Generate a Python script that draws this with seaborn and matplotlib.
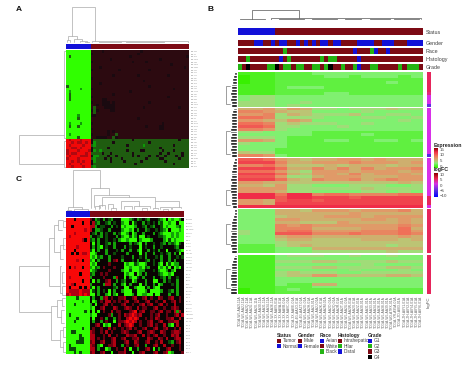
###################################################################################################
# Multi-panel heatmaps: A and C (differential genes), B (expression with clinical annotation)
# Saves out.png (474x366)
###################################################################################################

import numpy as np
import matplotlib
matplotlib.use("Agg")
import matplotlib.pyplot as plt
import seaborn as sns
from matplotlib.colors import LinearSegmentedColormap, ListedColormap, Normalize
from matplotlib.cm import ScalarMappable
from matplotlib.patches import Patch

sns.set_theme(style="white")
plt.rcParams["font.family"] = ["Liberation Sans", "DejaVu Sans"]

W, H = 474, 366

#################################### 1. Data ################################

# cell levels for A and C: 0 bright green ... 3 black ... 6 bright red
A_MATRIX = [
    "000000000 444434444444 444444344444 444444444444",
    "000000000 344444444444 444443444444 444444444444",
    "020000000 444444444444 443444444444 444444444443",
    "000000000 444444434444 444444444444 434444444444",
    "000000000 344444444444 444344443444 444444444444",
    "000000000 444444444444 444444444444 444443444444",
    "000000000 444344444444 444444444444 444444444434",
    "000000000 344444444434 444444444344 444444444444",
    "000000000 444444444444 444444444444 444444444444",
    "000000000 444444443444 444443444444 444434444444",
    "000000000 344444444444 444444444444 444444444444",
    "000000000 444444444444 444444434444 444444444444",
    "000000000 444344444444 444444444444 444444444444",
    "200000000 444444444444 444444444344 444444444444",
    "000001000 344444444444 444444444444 444444344444",
    "010000000 444444444444 443444444444 444444444444",
    "020000000 444444443444 444444444444 444444444444",
    "020000000 344444444444 444444444444 444434444444",
    "020000000 444433444444 444444444444 444444444444",
    "000000000 344433343444 444444444344 444444444444",
    "000000000 443433333444 444444444444 444444444444",
    "000000000 424443333444 444444434444 444444443444",
    "000000000 323444433444 444444444444 444444444444",
    "000000000 424444444444 444444444444 444444444444",
    "000010000 334444444444 444444444444 444444444444",
    "000020000 444444444444 444443444444 444444444444",
    "000000000 444444444444 444444444444 444444444444",
    "010001000 344444444444 444444444444 443444444444",
    "020020000 444444444444 444444443444 433444444444",
    "000000000 344444444444 444444444444 433444444444",
    "000000000 444444343444 444444444444 444444444444",
    "010000000 344444344244 444444444444 444444444444",
    "000020000 443333442344 444444444444 444444444444",
    "656665666 322222222222 222322222222 222222223222",
    "665655656 312222223222 222222222322 222222222222",
    "656666566 212222222222 232222212222 222222322222",
    "665565666 322222322222 222222222222 232222222222",
    "566656665 312122222222 232222332222 223222322222",
    "565566656 222232232222 222322222222 232232222322",
    "656665556 311222322322 222323222322 322322232322",
    "566656666 212223232223 222222223222 233222223222",
    "665656566 312222232222 322222322222 222322222222",
    "656665666 322222222222 222232222222 222222322222",
    "665666566 212222222222 222222222222 222222222222",
]

C_MATRIX = [
    "666366666 431231321333 000123123213 332103010013",
    "666666366 352133213233 100302331323 231200100300",
    "663666666 551322331323 010001332132 133201000120",
    "666666656 531123313333 100103133123 323210300010",
    "666566666 321313233132 001301331333 132100010100",
    "656666666 133213233313 100201300323 332210010100",
    "666666536 213133233231 001000310001 333310201000",
    "666666666 303133213133 333132103133 233213121023",
    "666656666 313103233133 313233303233 133233332133",
    "666366666 203133133323 133133103313 231330333210",
    "663636556 001333133233 331333303133 133232131303",
    "666666666 010213313333 233313323133 323133133232",
    "666656366 103133313453 133323133213 233133131333",
    "666666666 010333343333 301002100133 231030201133",
    "636566366 102134333433 300100010213 330102030103",
    "666666666 012333343333 100200011333 231001310333",
    "666663666 213343433333 301003013133 332100103333",
    "656666666 133334333153 303100231333 133213133233",
    "666666366 303133453313 213301333133 003313233133",
    "665366666 133331553133 103133303133 130133323133",
    "636663636 203133333213 300331000313 100333333133",
    "655556555 023132303133 100033000130 000133213133",
    "565556565 003133103103 300013001100 300333133133",
    "000020000 313314534334 453345334534 335433453343",
    "000000100 301343553434 345334533453 343353345343",
    "000200000 130334534333 453343345345 334534335333",
    "000000000 103345333543 345433534433 453343345433",
    "000000020 303034335344 333456345334 434534435153",
    "020000000 100333341334 354565453334 345334334535",
    "000020000 303343133134 335656533434 354334453353",
    "000200000 313313433034 456565343345 334533445533",
    "000000000 334530103335 345653343345 343353103533",
    "000000200 343343353433 434534334533 453345334353",
    "002200000 543343534333 454333453345 433543345543",
    "000002000 553334353343 335445335343 453343354533",
    "000002200 553434334533 453344533354 335435334553",
    "000022200 453345334533 345335433453 343533213453",
    "020000000 543103344533 134334533133 453353343343",
    "022200000 553133013343 353033133453 031334533343",
    "000202000 453345330334 453303345333 453345013334",
]

# panel B, hex expression level, one char = 3 samples: normal | group 2 | group 3
B_BLOCK1 = [
    "111 222 333333333", "011 222 233233323", "011 222 222222222", "011 222 222222322",
    "111 222 222222222", "111 233 322222222", "111 222 222222222", "111 222 233222222",
    "344 333 333333333", "344 333 333333333", "444 334 333333333", "444 343 333333333",
]
B_BLOCK2 = [
    "667 576 443444544", "887 655 333343333", "778 465 444533443", "998 444 433344334",
    "776 576 333333343", "998 454 443343333", "aa9 443 334333333", "887 433 333333333",
    "443 333 222222222", "333 333 222232222", "444 322 222222222", "776 322 233223323",
    "433 322 222222222", "333 322 222222222", "333 222 222222222", "544 222 222222222",
    "887 322 222222222",
]
B_BLOCK3 = [
    "aa9 765 667767666", "bbb 866 777877767", "889 755 565666566", "bbb 966 868686778",
    "999 754 777677767", "bbb 965 776867776", "aaa 744 677766677", "bbb 965 877867877",
    "776 655 555555565", "665 744 333444334", "777 744 444454444", "777 644 333344343",
    "ccc 9cc 899888899", "ccc acc bbbabbbbb", "776 abb abbbbbbbb", "776 bbb bbbbbbbbb",
    "ccc ccc ccccccccc",
]
B_BLOCK4 = [
    "333 665 777677786", "333 666 666766666", "333 566 677767777", "333 776 666677676",
    "333 665 557666676", "333 878 777777787", "333 888 666677796", "433 899 777788897",
    "433 aaa 888988898", "333 677 666666676", "333 566 555566656", "333 455 555555555",
    "222 456 555555455", "222 333 666666666", "222 333 444444544",
]
B_BLOCK5 = [
    "111 344 433433433", "111 333 333333333", "111 444 554444544", "111 333 333343333",
    "111 444 554444554", "111 333 333433343", "111 454 443344444", "111 455 775555665",
    "111 333 333333333", "111 333 333333333", "111 322 663333333", "111 222 333333333",
    "011 232 222222222", "011 222 222222222",
]

# logFC side bar, one value per row of each block
LOGFC_1 = [5, 5, 5, 5, 5, 5, 5, 4, 1, 1, 1, -4]
LOGFC_2 = [1, 1, 1, 1, 1, 1, 1, 1, 1, 1, 1, 1, 1, 1, 1, 1, -5]
LOGFC_3 = [1, 1, 1, 1, 1, 1, 1, 1, 1, 1, 1, 1, 1, 5, 5, 5, 1]
LOGFC_4 = [5, 5, 5, 5, 5, 5, 5, 5, 5, 5, 5, 5, 5, 5, 5]
LOGFC_5 = [5, 5, 5, 5, 5, 5, 5, 5, 5, 5, 5, 5, 5, 5]

# black row dendrogram width next to each block of panel B
LEAF_1 = [3, 4, 5, 5, 6, 6, 7, 8, 7, 8, 7, 6]
LEAF_2 = [4, 5, 6, 6, 6, 7, 7, 8, 8, 7, 8, 8, 8, 7, 8, 7, 6]
LEAF_3 = [3, 4, 5, 5, 6, 7, 7, 8, 7, 8, 8, 8, 7, 7, 7, 6, 5]
LEAF_4 = [3, 3, 4, 5, 6, 7, 7, 8, 7, 8, 8, 7, 8, 7, 6]
LEAF_5 = [3, 4, 5, 6, 6, 7, 7, 8, 8, 7, 8, 7, 8, 8]

# annotation tracks of panel B
STATUS = "NNNNNNNNN" + "TTTTTTTTTTTTTTTTTTTTTTTTTTTTTTTTTTTT"
GENDER = "RRRRBBRRBRBBRRBRBRBRBBRBBRRRRBBBBRRBBBRRRBBBB"
RACE = "RRRRRRRRRRRGRRRRRRRRRRRRRRRRBRRRGBRRBRRRRRRRR"[:45]
HISTOLOGY = "RRGRRRRRRRBRGRRRRRRRGRGGRRRRRBRRRRRRRRRRRRRRR"[:45]
GRADE = "GRKRRRRGGKRGGRGGRRGGRGKRRGRRGBRRGGRRRRRGRGGGR"
TRACK_NAMES = ["Status", "Gender", "Race", "Histology", "Grade"]

SAMPLES = [
    "TCGA-W5-AA2I-11A", "TCGA-W5-AA2J-11A", "TCGA-W5-AA2Q-11A", "TCGA-W5-AA2U-11A", "TCGA-W5-AA2X-11A",
    "TCGA-W5-AA30-11A", "TCGA-W5-AA31-11A", "TCGA-W5-AA34-11A", "TCGA-W5-AA36-11A", "TCGA-3X-AAV9-01A",
    "TCGA-3X-AAVA-01A", "TCGA-3X-AAVB-01A", "TCGA-3X-AAVC-01A", "TCGA-3X-AAVE-01A", "TCGA-4G-AAZO-01A",
    "TCGA-4G-AAZT-01A", "TCGA-W5-AA2G-01A", "TCGA-W5-AA2H-01A", "TCGA-W5-AA2I-01A", "TCGA-W5-AA2J-01A",
    "TCGA-W5-AA2K-01A", "TCGA-W5-AA2M-01A", "TCGA-W5-AA2O-01A", "TCGA-W5-AA2Q-01A", "TCGA-W5-AA2R-01A",
    "TCGA-W5-AA2T-01A", "TCGA-W5-AA2U-01A", "TCGA-W5-AA2W-01A", "TCGA-W5-AA2X-01A", "TCGA-W5-AA2Z-01A",
    "TCGA-W5-AA30-01A", "TCGA-W5-AA31-01A", "TCGA-W5-AA33-01A", "TCGA-W5-AA34-01A", "TCGA-W5-AA36-01A",
    "TCGA-W5-AA38-01A", "TCGA-W5-AA39-01A", "TCGA-WD-A7RX-01A", "TCGA-YR-A95A-01A", "TCGA-ZD-A8I3-01A",
    "TCGA-ZH-A8Y1-01A", "TCGA-ZH-A8Y2-01A", "TCGA-ZH-A8Y4-01A", "TCGA-ZH-A8Y5-01A", "TCGA-ZH-A8Y6-01A",
]

A_ROWS = ("miR-122 miR-21 miR-10b miR-135a miR-139 miR-125a miR-199a miR-214 miR-144 miR-451 miR-29c "
          "miR-101 miR-30a miR-378 miR-424 miR-450a miR-195 miR-497 miR-99a miR-100 miR-130a miR-145 "
          "miR-143 miR-126 miR-223 miR-22 miR-375 miR-200a miR-200b miR-429 miR-141 miR-182 miR-183 "
          "miR-96 miR-210 miR-221 miR-222 miR-224 miR-34a miR-93 miR-106b miR-25 miR-17 miR-20a").split()
C_ROWS = ("LIN-1152 LIN-0511 HOX-A11 MIR-31HG SNH-G3 TER-C H19-1 MEG-3 MEG-8 DLX-6A AFA-P1 CRN-DE FOX-D2 "
          "HAG-LR LUC-AT1 NEA-T1 PVT-1 TUG-1 UCA-1 XIS-T ZEB-2AS CAS-C2 GAS-5 MIA-T HUL-C KCN-Q1 LIN-C01 "
          "LIN-C02 LOC-1001 LOC-1002 MAL-AT RP1-1 RP1-2 RP3-1 RP3-2 RP4-1 RP5-1 RP5-2 RP6-1 RP11-7").split()

# dendrogram merges: position 1, height 1, position 2, height 2, merge height
TREE_A_TOP = [(2.2, 7, 10.6, 2, 36), (0.8, 3, 4.0, 4, 7), (0.3, 1, 1.5, 1, 3), (3.0, 1, 6.0, 2, 4),
              (5.0, 1, 7.5, 1, 2), (7.0, 0, 8.5, 0, 1), (9.5, 1, 44.5, 0, 2), (12, 0, 20, 0, 1), (22, 0, 36, 0, 1)]
TREE_A_LEFT = [(31.7, 2, 42.5, 2, 47), (0.5, 0, 32.8, 0, 2), (34.0, 0, 43.5, 0, 2)]
TREE_C_TOP = [(2.6, 4, 13, 23, 40.5), (0.6, 1, 6, 2, 4), (0.3, 0, 2, 0, 1), (3, 0, 8.5, 0, 2),
              (9.5, 3, 16.5, 16, 22.7), (10.8, 4, 24, 14, 16), (13.7, 5, 34, 10, 14), (11, 2, 13, 3, 5),
              (12.5, 2, 15, 2, 6), (16, 2, 18, 3, 7), (17, 1, 19, 1, 3), (21, 2, 28, 5, 10), (22, 2, 25, 2, 5),
              (26, 2, 32, 3, 5), (29, 1, 31, 1, 3), (34, 3, 43, 4, 10), (36, 2, 40, 2, 4), (40.5, 2, 44, 3, 4),
              (33, 2, 35, 2, 3), (37, 1, 39, 1, 2)]
TREE_C_LEFT = [(14, 17, 27.5, 15, 47), (6, 12, 20, 6, 17), (2, 8, 10, 6, 12), (0.5, 3, 3.5, 4, 8), (1, 0, 2.5, 0, 3),
               (8, 2, 12, 3, 6), (14, 5, 22, 4, 6), (16, 2, 19, 2, 4), (20, 1, 22.5, 0, 4), (6, 0, 9, 1, 3),
               (26, 9, 36, 6, 15), (24, 4, 29, 5, 9), (23.5, 1, 26, 2, 4), (27, 2, 31, 2, 5), (33, 3, 38, 3, 6),
               (32, 0, 35, 0, 3), (36.5, 0, 39.5, 0, 3)]
TREE_B_TOP = [(3.4, 1, 14.8, 2, 10), (0.5, 0, 6.5, 0, 1), (8, 0, 44.5, 0.5, 2), (10, 0, 16, 0, 1), (18, 0, 24, 0, 1),
              (26, 0, 30, 0, 1), (32, 0, 37, 0, 1), (38, 0, 44, 0, 1)]
TREE_B_LEFT = [(5, 8, 11, 8, 12), (8, 8, 16, 8, 12), (11, 8, 16, 8, 12), (5, 8, 12, 8, 12), (5, 8, 12, 8, 12)]

# legend content
LEGENDS = {
    "Status": [("Tumor", "T"), ("Normal", "N")],
    "Gender": [("Male", "R"), ("Female", "B")],
    "Race": [("Asian", "B"), ("White", "R"), ("Black", "G")],
    "Histology": [("Intrahepatic", "R"), ("Hilar", "G"), ("Distal", "B")],
    "Grade": [("G1", "B"), ("G2", "G"), ("G3", "R"), ("G4", "K")],
}

#################################### 2. Colours and layout #######################################

DARK_RED, BLUE, GREEN, BLACK = "#7c0a14", "#1210d8", "#24b414", "#000000"
TRACK_CODES = {"T": 0, "R": 0, "N": 1, "B": 1, "G": 2, "K": 3}
track_cmap = ListedColormap([DARK_RED, BLUE, GREEN, BLACK])
SWATCH = {"T": DARK_RED, "R": DARK_RED, "N": BLUE, "B": BLUE, "G": GREEN, "K": BLACK}

a_cmap = ListedColormap(["#30ff00", "#0e9a08", "#1f5c10", "#1a0a10", "#2c0a10", "#b00810", "#f00808"])
c_cmap = ListedColormap(["#30ff00", "#12a008", "#0a4a08", "#0a0303", "#6a0010", "#b00012", "#f80808"])
expr_cmap = LinearSegmentedColormap.from_list("expr", [
    (0 / 15, "#38f000"), (2 / 15, "#60f040"), (3 / 15, "#80f070"), (4 / 15, "#a0dc78"), (5 / 15, "#bcc474"),
    (7 / 15, "#e09a68"), (9 / 15, "#f07058"), (12 / 15, "#f02c48"), (15 / 15, "#8b0000")])
fc_cmap = LinearSegmentedColormap.from_list("fc", [
    (0, "#0000ff"), (0.28, "#5a30e0"), (0.55, "#d830e8"), (0.78, "#e82448"), (1, "#8b0000")])

fig = plt.figure(figsize=(W / 100, H / 100), dpi=100)


def px_axes(x0, y0, x1, y1):
    return fig.add_axes([x0 / W, 1 - y1 / H, (x1 - x0) / W, (y1 - y0) / H])


def digits(rows, base=10):
    return np.array([[int(c, base) for c in r.replace(" ", "")] for r in rows])


def draw_tree(ax, merges, side="top", color="#aaaaaa", lw=0.5):
    for p1, h1, p2, h2, h in merges:
        pos, hgt = [p1, p1, p2, p2], [h1, h, h, h2]
        if side == "top":
            ax.plot(pos, hgt, color=color, lw=lw, solid_joinstyle="miter")
        else:
            ax.plot(hgt, pos, color=color, lw=lw, solid_joinstyle="miter")


def top_tree(box, merges, ncol, hmax, **kw):
    ax = px_axes(*box)
    ax.set_xlim(0, ncol)
    ax.set_ylim(0, hmax)
    ax.set_axis_off()
    draw_tree(ax, merges, "top", **kw)


def left_tree(box, merges, nrow, hmax, **kw):
    ax = px_axes(*box)
    ax.set_xlim(hmax, 0)
    ax.set_ylim(nrow, 0)
    ax.set_axis_off()
    draw_tree(ax, merges, "left", **kw)


def track(box, codes, label=None):
    ax = px_axes(*box)
    vals = np.array([[TRACK_CODES[c] for c in codes]])
    sns.heatmap(vals, ax=ax, cmap=track_cmap, vmin=-0.5, vmax=3.5, cbar=False, xticklabels=False,
                yticklabels=[label] if label else False)
    if label:
        ax.yaxis.tick_right()
        ax.tick_params(axis="y", length=0, pad=1.8, labelsize=3.9, labelcolor="#444444", rotation=0)


def side_heatmap(box, matrix, cmap, rows, **kw):
    ax = px_axes(*box)
    sns.heatmap(matrix, ax=ax, cmap=cmap, vmin=-0.5, vmax=6.5, cbar=False, xticklabels=False, yticklabels=rows, **kw)
    ax.yaxis.tick_right()
    ax.tick_params(axis="y", length=0, pad=1.2, labelsize=1.3, labelcolor="#888888", rotation=0)
    return ax


#################################### 3. Panel A ###################################################

top_tree((66, 5, 189, 43), TREE_A_TOP, 45, 38)
track((66, 43.5, 189, 49), STATUS)
left_tree((15, 50, 65.5, 168), TREE_A_LEFT, 44, 50.5)
side_heatmap((66, 50, 189, 168), digits(A_MATRIX), a_cmap, A_ROWS)

#################################### 4. Panel C ###################################################

top_tree((66, 169, 184, 211), TREE_C_TOP, 45, 42)
track((66, 211, 184, 217), STATUS)
left_tree((15, 218, 65.5, 354), TREE_C_LEFT, 40, 50.5)
side_heatmap((66, 218, 184, 354), digits(C_MATRIX), c_cmap, C_ROWS)

#################################### 5. Panel B ###################################################

top_tree((238, 8, 423, 20), TREE_B_TOP, 45, 12, color="#555555", lw=0.5)

track_boxes = [(28.5, 34.5), (40, 46), (48.3, 54), (56, 62), (64, 70)]
for (y0, y1), name, codes in zip(track_boxes, TRACK_NAMES, [STATUS, GENDER, RACE, HISTOLOGY, GRADE]):
    track((238, y0, 423, y1), codes, name)

blocks = [
    (72, 106.5, B_BLOCK1, LOGFC_1, LEAF_1),
    (107.5, 156.5, B_BLOCK2, LOGFC_2, LEAF_2),
    (158, 207.5, B_BLOCK3, LOGFC_3, LEAF_3),
    (209, 253, B_BLOCK4, LOGFC_4, LEAF_4),
    (254.5, 294, B_BLOCK5, LOGFC_5, LEAF_5),
]
for i, (y0, y1, rows, logfc, leaf) in enumerate(blocks):
    ax = px_axes(238, y0, 423, y1)
    # each typed level covers three samples
    mat = np.repeat(digits(rows, 16), 3, axis=1)
    last = i == len(blocks) - 1
    sns.heatmap(mat, ax=ax, cmap=expr_cmap, vmin=0, vmax=15, cbar=False,
                xticklabels=SAMPLES if last else False, yticklabels=False)
    if last:
        ax.tick_params(axis="x", length=0, pad=1.2, labelsize=2.4, labelcolor="#666666", rotation=90)

    side = px_axes(427, y0, 431, y1)
    sns.heatmap(np.array(logfc).reshape(-1, 1), ax=side, cmap=fc_cmap, vmin=-10, vmax=10, cbar=False,
                xticklabels=["logFC"] if last else False, yticklabels=False)
    if last:
        side.tick_params(axis="x", length=0, pad=1.5, labelsize=3.2, labelcolor="#555555", rotation=90)

    dend = px_axes(225, y0, 237.5, y1)
    dend.barh(np.arange(len(leaf)) + 0.5, leaf, height=1.0, color="black")
    dend.set_xlim(12.5, 0)
    dend.set_ylim(len(leaf), 0)
    dend.set_axis_off()
    draw_tree(dend, [TREE_B_LEFT[i]], "left", color="#777777", lw=0.5)

#################################### 6. Legends ###################################################

legend_pos = {"Status": 276.5, "Gender": 297.5, "Race": 319.5, "Histology": 337.5, "Grade": 367.5}
for title, items in LEGENDS.items():
    handles = [Patch(facecolor=SWATCH[code], edgecolor="none", label=lab) for lab, code in items]
    fig.legend(handles=handles, title=title, loc="upper left", alignment="left",
               bbox_to_anchor=(legend_pos[title] / W, 1 - 333 / H), frameon=False, fontsize=3.4,
               title_fontproperties={"weight": "bold", "size": 3.5}, handlelength=1.0, handleheight=0.95,
               handletextpad=0.4, labelspacing=0.08, borderpad=0, borderaxespad=0, labelcolor="#444444")

cax = px_axes(433.5, 148, 438, 167.5)
cb = fig.colorbar(ScalarMappable(Normalize(-1, 16), expr_cmap), cax=cax, ticks=[15, 10, 5, 0])
cb.outline.set_visible(False)
cb.ax.tick_params(length=0, pad=1.2, labelsize=3.2, labelcolor="#444444")
fig.text(433.5 / W, 1 - 146.5 / H, "Expression", fontsize=3.8, weight="bold", color="#222222")

cax = px_axes(433.5, 173, 438, 197)
cb = fig.colorbar(ScalarMappable(Normalize(-11, 11), fc_cmap), cax=cax, ticks=[10, 5, 0, -5, -10])
cb.outline.set_visible(False)
cb.ax.tick_params(length=0, pad=1.2, labelsize=3.2, labelcolor="#444444")
fig.text(433.5 / W, 1 - 171.5 / H, "logFC", fontsize=3.8, weight="bold", color="#222222")

for letter, x, y in [("A", 16, 11), ("B", 208, 11), ("C", 16, 181)]:
    fig.text(x / W, 1 - y / H, letter, fontsize=6, weight="bold", color="#111111")

fig.savefig("out.png", dpi=100)
plt.close(fig)
